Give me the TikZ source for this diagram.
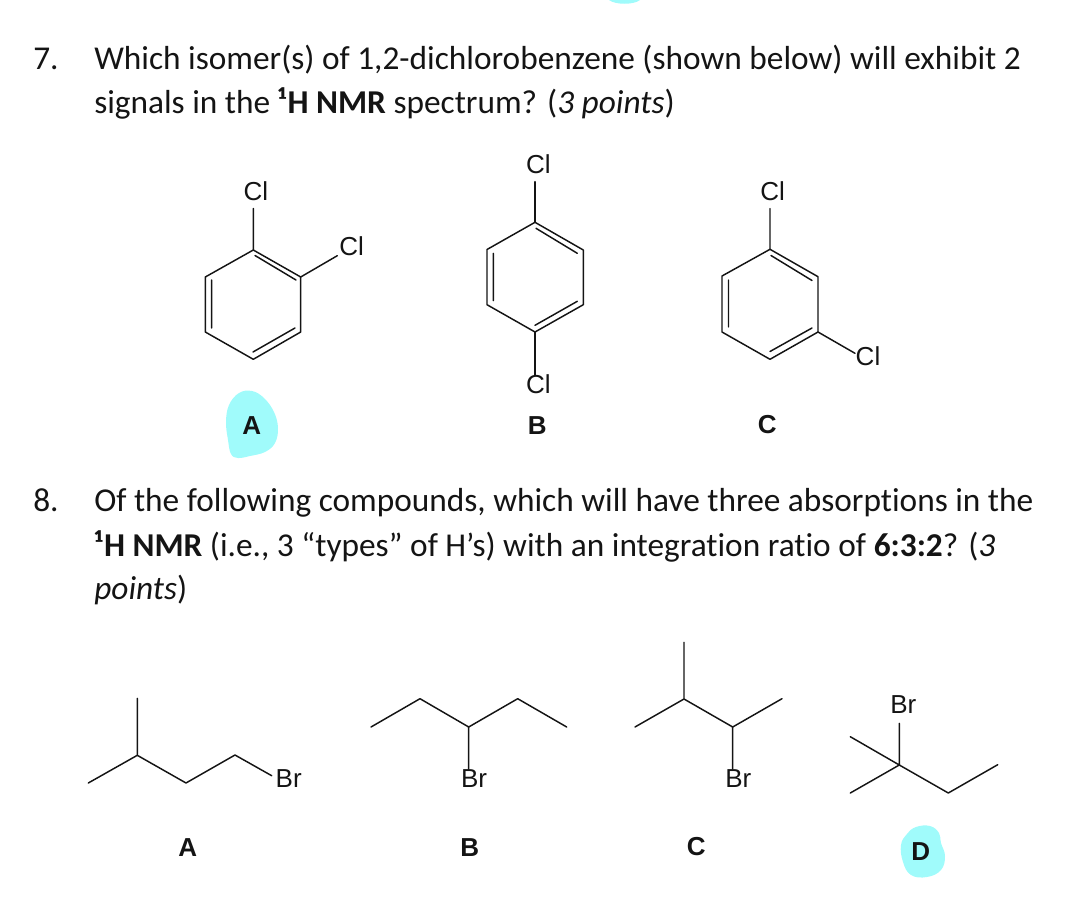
\documentclass[tikz,border=0pt]{standalone}
\usepackage{fontspec}
\setmainfont{Carlito}[Ligatures=NoCommon]
\newfontfamily\chemfont{Liberation Sans}
\definecolor{hl}{HTML}{A0FBFB}
\tikzset{
  bond/.style={line width=1.1pt,line cap=round,line join=round,black!92},
  txt/.style={anchor=base west,inner sep=0pt,font=\fontsize{25}{30}\selectfont,text=black!92},
  atom/.style={inner sep=0pt,font=\chemfont\fontsize{19.5}{21}\selectfont,text=black!92},
  tag/.style={inner sep=0pt,font=\chemfont\bfseries\fontsize{19.5}{21}\selectfont,text=black!92},
  blob/.style={fill=hl,draw=none}
}
\begin{document}
\begin{tikzpicture}[x=0.75pt,y=-0.75pt]
\useasboundingbox (0,0) rectangle (1068,910);
% highlighter marks
\fill[blob] (609,0) .. controls (615,5) and (634,5) .. (640,0) -- cycle;
\fill[blob] plot[smooth cycle,tension=0.65] coordinates {(239,393) (252,391) (264,398) (274,412) (278,428) (275,443) (265,452) (250,456) (238,458) (231,454) (228,440) (226,422) (229,405)};
\fill[blob] plot[smooth cycle,tension=0.7] coordinates {(916,827) (930,826) (939,833) (941,843) (945,856) (941,870) (927,877) (911,875) (903,862) (901,845) (907,834)};
% question text
\node[txt] (n7) at (33,69) {7.};
\node[txt] (q7a) at (94,69) {Which isomer(s) of 1,2-dichlorobenzene (shown below) will exhibit 2};
\node[txt] (q7b) at (94,113) {signals in the {\bfseries ¹\kern1pt H NMR} spectrum? (\textit{3 points})};
\node[txt] (n8) at (33,511) {8.};
\node[txt] (q8a) at (94,511) {Of the following compounds, which will have three absorptions in the};
\node[txt] (q8b) at (94,556) {{\bfseries ¹\kern1pt H NMR} (i.e., 3 “types” of H’s) with an integration ratio of {\bfseries 6:3:2}? (\textit{3}};
\node[txt] (q8c) at (94,599) {\textit{points})};
% ---- Q7 A
\coordinate (a1) at (253.3,250);
\coordinate (a2) at (300.7,277);
\coordinate (a3) at (300.7,332);
\coordinate (a4) at (253.3,359.3);
\coordinate (a5) at (205.3,332);
\coordinate (a6) at (205.3,277);
\draw[bond] (a1)--(a2)--(a3)--(a4)--(a5)--(a6)--cycle;
\coordinate (a1i) at (255,255.5);
\coordinate (a2i) at (296,280);
\coordinate (a3i) at (295,328);
\coordinate (a4i) at (253,352);
\coordinate (a5i) at (211.7,328);
\coordinate (a6i) at (211.7,280);
\draw[bond] (a1i)--(a2i) (a3i)--(a4i) (a5i)--(a6i);
\node[atom] (acl1) at (256,191.7) {Cl};
\node[atom] (acl2) at (351.7,246) {Cl};
\coordinate (ae1) at (253.3,208.5);
\coordinate (ae2) at (337.3,255.7);
\draw[bond] (a1)--(ae1) (a2)--(ae2);
\node[tag] (la) at (251.7,425.7) {A};
% ---- Q7 B
\coordinate (b1) at (535,222.3);
\coordinate (b2) at (583.3,250);
\coordinate (b3) at (583.3,304.7);
\coordinate (b4) at (535,332);
\coordinate (b5) at (487,304.7);
\coordinate (b6) at (487,249.5);
\draw[bond] (b1)--(b2)--(b3)--(b4)--(b5)--(b6)--cycle;
\coordinate (b1i) at (536,228.3);
\coordinate (b2i) at (577.3,253.3);
\coordinate (b3i) at (577.3,301.3);
\coordinate (b4i) at (535,325.3);
\coordinate (b5i) at (493.3,300.7);
\coordinate (b6i) at (493.3,253.3);
\draw[bond] (b1i)--(b2i) (b3i)--(b4i) (b5i)--(b6i);
\node[atom] (bcl1) at (538.3,164) {Cl};
\node[atom] (bcl2) at (538.3,384) {Cl};
\coordinate (be1) at (535,181.7);
\coordinate (be2) at (535,375);
\draw[bond] (b1)--(be1) (b4)--(be2);
\node[tag] (lb) at (537.3,425.7) {B};
% ---- Q7 C
\coordinate (c1) at (770,249.3);
\coordinate (c2) at (818,276.7);
\coordinate (c3) at (818,332);
\coordinate (c4) at (770,359.3);
\coordinate (c5) at (722,332);
\coordinate (c6) at (722,276);
\draw[bond] (c1)--(c2)--(c3)--(c4)--(c5)--(c6)--cycle;
\coordinate (c1i) at (771,255.5);
\coordinate (c2i) at (812,280.5);
\coordinate (c3i) at (812,328);
\coordinate (c4i) at (770,351.5);
\coordinate (c5i) at (728.5,327);
\coordinate (c6i) at (728.5,280);
\draw[bond] (c1i)--(c2i) (c3i)--(c4i) (c5i)--(c6i);
\node[atom] (ccl1) at (772.7,191.7) {Cl};
\node[atom] (ccl2) at (868,356) {Cl};
\coordinate (ce1) at (770,208.5);
\coordinate (ce2) at (855,353.3);
\draw[bond] (c1)--(ce1) (c3)--(ce2);
\node[tag] (lc) at (767.3,424.3) {C};
% ---- Q8 A
\coordinate (d1) at (88.3,783);
\coordinate (d2) at (137.3,755.3);
\coordinate (d3) at (137.3,698.3);
\coordinate (d4) at (186,783);
\coordinate (d5) at (235,755);
\coordinate (d6) at (271.7,775.7);
\draw[bond] (d1)--(d2)--(d4)--(d5)--(d6) (d2)--(d3);
\node[atom] (dbr) at (288.7,779) {Br};
\node[tag] (ld) at (187.7,847.3) {A};
% ---- Q8 B
\coordinate (e1) at (371,727);
\coordinate (e2) at (420,698.7);
\coordinate (e3) at (468.7,727);
\coordinate (e4) at (517.7,698.7);
\coordinate (e5) at (566.7,727);
\coordinate (e6) at (468.7,769);
\draw[bond] (e1)--(e2)--(e3)--(e4)--(e5) (e3)--(e6);
\node[atom] (ebr) at (474,779) {Br};
\node[tag] (le) at (469.7,847.3) {B};
% ---- Q8 C
\coordinate (f1) at (635,727);
\coordinate (f2) at (684,699);
\coordinate (f3) at (684,642.3);
\coordinate (f4) at (732.7,727);
\coordinate (f5) at (782,698.7);
\coordinate (f6) at (732.7,769);
\draw[bond] (f1)--(f2)--(f4)--(f5) (f2)--(f3) (f4)--(f6);
\node[atom] (fbr) at (738.3,779) {Br};
\node[tag] (lf) at (696.3,846.7) {C};
% ---- Q8 D
\coordinate (g1) at (899.3,765);
\coordinate (g2) at (899.3,723.3);
\coordinate (g3) at (850.3,736.7);
\coordinate (g4) at (850.3,793);
\coordinate (g5) at (948.3,793);
\coordinate (g6) at (997.7,764.7);
\draw[bond] (g3)--(g1)--(g5)--(g6) (g4)--(g1) (g1)--(g2);
\node[atom] (gbr) at (903.3,705) {Br};
\node[tag] (lg) at (920.7,851.7) {D};
\end{tikzpicture}
\end{document}
